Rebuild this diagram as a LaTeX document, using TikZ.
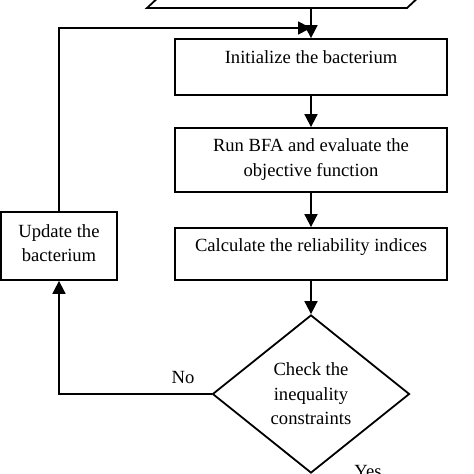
\documentclass[tikz,border=0pt]{standalone}
\usepackage{fontspec}
\setmainfont{Liberation Serif}
\usetikzlibrary{arrows.meta,shapes.geometric}
\begin{document}
\begin{tikzpicture}[x=1pt,y=-1pt,
  every node/.style={font=\fontsize{18.6}{24.5}\selectfont},
  procbox/.style={draw,line width=1.8pt,rectangle,minimum width=272pt,inner sep=0pt},
  decbox/.style={draw,line width=1.8pt,diamond,minimum width=197pt,minimum height=158pt,inner sep=0pt,align=center},
  txt/.style={inner sep=0pt,align=center},
  flow/.style={line width=1.8pt,-{Triangle[length=13pt,width=13pt]}},
  plain/.style={line width=1.8pt}]
\useasboundingbox (0,0) rectangle (474,474);
\clip (0,0) rectangle (474,474);
% input parallelogram (mostly above the picture)
\draw[plain] (162,-6) -- (147,8) -- (407,8) -- (422,-6);
\coordinate (in) at (311,8);
% boxes
\node[procbox,minimum height=56pt] (b1) at (311,67) {};
\node[txt] (t1) at (311,57) {Initialize the bacterium};
\node[procbox,minimum height=64pt] (b2) at (311,160) {};
\node[txt] (t2) at (311,159.5) {Run BFA and evaluate the\\objective function};
\node[procbox,minimum height=52pt] (b3) at (311,254) {};
\node[txt] (t3) at (311,247) {Calculate the reliability indices};
\node[draw,line width=1.8pt,rectangle,minimum width=116pt,minimum height=68pt,inner sep=0pt] (up) at (59,246) {};
\node[txt] (tu) at (59,243) {Update the\\bacterium};
\node[decbox] (d) at (311,394) {};
\node[txt] (td) at (311,394) {Check the\\inequality\\constraints};
% labels
\node[txt] (no) at (183,377) {No};
\node[txt,anchor=base] (yes) at (368,477) {Yes};
% connectors
\coordinate (loopc) at (59,28);
\coordinate (join) at (311,28);
\coordinate (noc) at (59,394);
\coordinate (outc) at (311,490);
\draw[flow] (in) -- (b1.north);
\draw[flow] (b1.south) -- (b2.north);
\draw[flow] (b2.south) -- (b3.north);
\draw[flow] (b3.south) -- (d.north);
\draw[flow] (d.west) -- (noc) -- (up.south);
\draw[flow] (up.north) -- (loopc) -- (join);
\draw[plain] (d.south) -- (outc);
\end{tikzpicture}
\end{document}
